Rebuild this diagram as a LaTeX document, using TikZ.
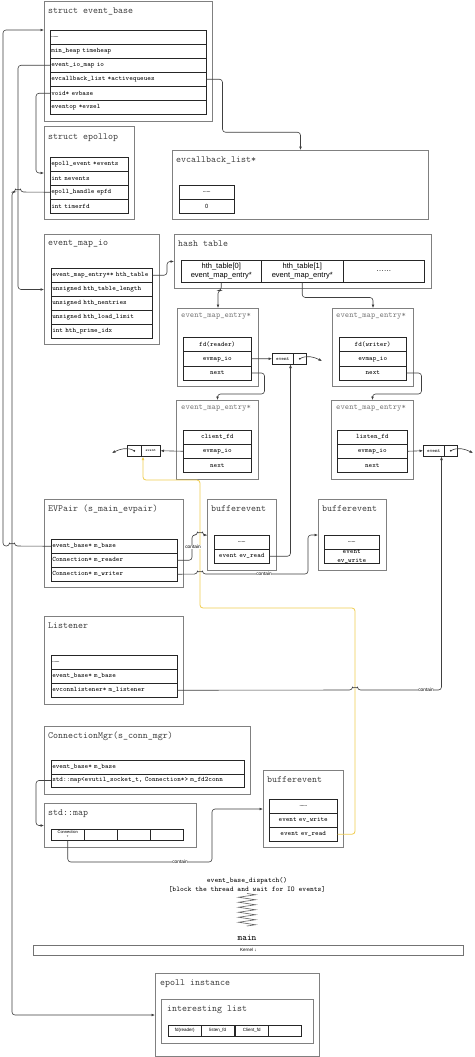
\documentclass[tikz,border=0pt]{standalone}
\usepackage{fontspec}
\newfontfamily\arialfont{Liberation Sans}
\usetikzlibrary{arrows.meta,decorations.pathmorphing}
\definecolor{wireyellow}{RGB}{240,205,80}

\begin{document}
\begin{tikzpicture}[x=1pt, y=-1pt, >={Latex[length=3.5pt,width=2.8pt]},
  box/.style={draw=black!50, line width=1pt, anchor=north west, inner sep=0pt},
  ttl/.style={anchor=north west, inner sep=0pt, text=black!75, font=\ttfamily\fontsize{9.5}{10}\selectfont},
  subttl/.style={anchor=north west, inner sep=0pt, text=black!50, font=\ttfamily\fontsize{8.2}{9}\selectfont},
  fld/.style={draw=black!85, line width=0.5pt, anchor=north west, minimum height=14pt, inner xsep=1pt, inner ysep=0pt, align=left, font=\ttfamily\fontsize{6.8}{7}\selectfont},
  cfld/.style={fld, align=center},
  cell/.style={draw=black!85, line width=0.5pt, anchor=north west, inner sep=0pt, align=center, font=\arialfont\fontsize{4.5}{5}\selectfont},
  hcell/.style={cell, minimum height=22pt, font=\arialfont\fontsize{7.5}{9.5}\selectfont},
  evt/.style={draw=black!85, line width=0.5pt, anchor=north west, inner sep=0pt, minimum height=11pt, font=\ttfamily\fontsize{5}{5}\selectfont},
  conn/.style={draw=black!75, line width=0.6pt, ->, rounded corners=3pt},
  ylw/.style={draw=wireyellow, line width=0.8pt, ->, rounded corners=3pt},
  tag/.style={fill=white, inner sep=0.3pt, font=\arialfont\fontsize{4.8}{5}\selectfont}]
\fill[white] (0,0) rectangle (474,1057);
\useasboundingbox (0,0) rectangle (474,1057);

% event_base
\node[box, minimum width=168pt, minimum height=120pt] (base) at (44,1) {};
\node[ttl] (base-t) at ([xshift=4pt,yshift=-6pt]base.north west) {struct event\_base};
\foreach \txt [count=\i from 0] in {\textellipsis\textellipsis, min\_heap timeheap, event\_io\_map io, evcallback\_list *activequeues, void* evbase, eventop *evsel}
  \node[fld, text width=154pt] (eb\i) at (50,{30+14*\i}) {\txt};

% epollop
\node[box, minimum width=90pt, minimum height=93pt] (epollop) at (44,126) {};
\node[ttl] (epollop-t) at ([xshift=4pt,yshift=-7pt]epollop.north west) {struct epollop};
\foreach \txt [count=\i from 0] in {epoll\_event *events, int nevents, epoll\_handle epfd, int timerfd}
  \node[fld, text width=76pt] (ee\i) at (50,{157+14*\i}) {\txt};

% evcallback_list
\node[box, minimum width=256pt, minimum height=69pt] (cbl) at (172,150) {};
\node[ttl] (cbl-t) at ([xshift=4pt,yshift=-6pt]cbl.north west) {evcallback\_list*};
\foreach \txt [count=\i from 0] in {\textellipsis\textellipsis, 0}
  \node[cfld, text width=53pt] (cb\i) at (179,{185+14*\i}) {\txt};

% event_map_io
\node[box, minimum width=115pt, minimum height=110pt] (mapio) at (44,234) {};
\node[ttl] (mapio-t) at ([xshift=4pt,yshift=-6pt]mapio.north west) {event\_map\_io};
\foreach \txt [count=\i from 0] in {event\_map\_entry** hth\_table, unsigned hth\_table\_length, unsigned hth\_nentries, unsigned hth\_load\_limit, int hth\_prime\_idx}
  \node[fld, text width=99pt] (mi\i) at (51,{268+14*\i}) {\txt};

% hash table
\node[box, minimum width=257pt, minimum height=54pt] (hash) at (174,234) {};
\node[ttl] (hash-t) at ([xshift=4pt,yshift=-6pt]hash.north west) {hash table};
\node[hcell, minimum width=80pt] (h0) at (181,260) {hth\_table[0]\\event\_map\_entry*};
\node[hcell, minimum width=82pt] (h1) at (261,260) {hth\_table[1]\\event\_map\_entry*};
\node[hcell, minimum width=81pt] (h2) at (343,260) {\textellipsis\textellipsis};

% event_map_entry
\node[box, minimum width=81pt, minimum height=78pt] (e1) at (177,308) {};
\node[subttl] (e1-t) at ([xshift=4pt,yshift=-5pt]e1.north west) {event\_map\_entry*};
\foreach \txt [count=\i from 0] in {fd(reader), evmap\_io, next}
  \node[cfld, text width=66pt, minimum height=14.3pt] (r1\i) at (183,{337+14.3*\i}) {\txt};
\node[box, minimum width=81pt, minimum height=78pt] (e2) at (332,308) {};
\node[subttl] (e2-t) at ([xshift=4pt,yshift=-5pt]e2.north west) {event\_map\_entry*};
\foreach \txt [count=\i from 0] in {fd(writer), evmap\_io, next}
  \node[cfld, text width=65pt, minimum height=14.3pt] (r2\i) at (339,{337+14.3*\i}) {\txt};
\node[box, minimum width=82pt, minimum height=79pt] (e3) at (176,400) {};
\node[subttl] (e3-t) at ([xshift=5pt,yshift=-5pt]e3.north west) {event\_map\_entry*};
\foreach \txt [count=\i from 0] in {client\_fd, evmap\_io, next}
  \node[cfld, text width=66pt] (r3\i) at (183,{430+14*\i}) {\txt};
\node[box, minimum width=82pt, minimum height=79pt] (e4) at (331,400) {};
\node[subttl] (e4-t) at ([xshift=5pt,yshift=-5pt]e4.north west) {event\_map\_entry*};
\foreach \txt [count=\i from 0] in {listen\_fd, evmap\_io, next}
  \node[cfld, text width=68pt] (r4\i) at (337,{430+14*\i}) {\txt};

% events
\node[evt, minimum width=21pt] (evA) at (272,353) {event};
\node[evt, minimum width=13pt] (evAd) at (293,353) {};
\node[evt, minimum width=14pt] (evBd) at (127,445) {};
\node[evt, minimum width=19pt, font=\ttfamily\fontsize{3.8}{4}\selectfont] (evB) at (141,445) {event};
\node[evt, minimum width=21pt] (evC) at (423,445) {event};
\node[evt, minimum width=13pt] (evCd) at (444,445) {};
\foreach \d in {evAd, evBd, evCd}
  \fill[black!85] (\d.center) circle[radius=1pt];
\coordinate (evA-end) at (322,361);
\coordinate (evB-end) at (112,453);
\coordinate (evC-end) at (473,453);

% EVPair
\node[box, minimum width=139pt, minimum height=88pt] (evp) at (44,499) {};
\node[ttl] (evp-t) at ([xshift=4pt,yshift=-6pt]evp.north west) {EVPair (s\_main\_evpair)};
\foreach \txt [count=\i from 0] in {event\_base* m\_base, Connection* m\_reader, Connection* m\_writer}
  \node[fld, text width=124pt] (ep\i) at (51,{539+14*\i}) {\txt};

% bufferevents
\node[box, minimum width=69pt, minimum height=71pt] (bf1) at (207,499) {};
\node[ttl] (bf1-t) at ([xshift=4pt,yshift=-6pt]bf1.north west) {bufferevent};
\foreach \txt [count=\i from 0] in {\textellipsis\textellipsis, event ev\_read}
  \node[cfld, text width=53pt] (b1\i) at (214,{535+14*\i}) {\txt};
\node[box, minimum width=68pt, minimum height=71pt] (bf2) at (318,499) {};
\node[ttl] (bf2-t) at ([xshift=4pt,yshift=-6pt]bf2.north west) {bufferevent};
\node[cfld, text width=53pt] (b20) at (324,535) {\textellipsis\textellipsis};
\node[cfld, text width=53pt] (b21) at (324,549) {};
\node[inner sep=0pt, align=center, font=\ttfamily\fontsize{6.8}{8.5}\selectfont] (b21-t) at ([yshift=-0.5pt]b21.center) {event\\ev\_write};

% Listener
\node[box, minimum width=139pt, minimum height=88pt] (lsn) at (44,616) {};
\node[ttl] (lsn-t) at ([xshift=4pt,yshift=-6pt]lsn.north west) {Listener};
\foreach \txt [count=\i from 0] in {\textellipsis\textellipsis, event\_base* m\_base, evconnlistener* m\_listener}
  \node[fld, text width=124pt] (ls\i) at (51,{655+14*\i}) {\txt};

% ConnectionMgr
\node[box, minimum width=206pt, minimum height=68pt] (cmgr) at (44,726) {};
\node[ttl] (cmgr-t) at ([xshift=4pt,yshift=-6pt]cmgr.north west) {ConnectionMgr(s\_conn\_mgr)};
\foreach \txt [count=\i from 0] in {event\_base* m\_base, {std::map<evutil\_socket\_t, Connection*> m\_fd2conn}}
  \node[fld, text width=191pt, minimum height=13.5pt] (cm\i) at (51,{760+13.5*\i}) {\txt};

% std::map
\node[box, minimum width=152pt, minimum height=44pt] (smap) at (44,803) {};
\node[ttl] (smap-t) at ([xshift=4pt,yshift=-6pt]smap.north west) {std::map};
\node[cell, minimum width=33pt, minimum height=11pt, font=\arialfont\fontsize{4}{4.5}\selectfont] (sm0) at (51,829) {Connection\\*};
\foreach \i in {1,2,3}
  \node[cell, minimum width=33pt, minimum height=11pt] (sm\i) at ({51+33*\i},829) {};

\node[box, minimum width=80pt, minimum height=77pt] (bf3) at (263,770) {};
\node[ttl] (bf3-t) at ([xshift=4pt,yshift=-6pt]bf3.north west) {bufferevent};
\foreach \txt [count=\i from 0] in {\textellipsis\textellipsis, event ev\_write, event ev\_read}
  \node[cfld, text width=66pt] (b3\i) at (269,{799+14*\i}) {\txt};

% dispatch and kernel
\node[inner sep=0pt, font=\ttfamily\fontsize{7.2}{8}\selectfont] (disp) at (247,881) {event\_base\_dispatch()};
\node[inner sep=0pt, font=\ttfamily\fontsize{7.2}{8}\selectfont] (blk) at (247,889) {[block the thread and wait for IO events]};
\node[inner sep=0pt, font=\ttfamily\fontsize{9}{10}\selectfont] (mainlbl) at (247,938) {main};
\draw[black!60, line width=0.6pt, decorate, decoration={zigzag, segment length=5pt, amplitude=8.5pt}] ([yshift=-1.5pt]blk.south) -- ([yshift=9pt]mainlbl.north);
\node[draw=black!55, line width=0.8pt, anchor=north west, minimum width=430pt, minimum height=10pt, inner sep=0pt, font=\arialfont\fontsize{4.5}{5}\selectfont] (kern) at (33,945) {Kernel ↓};

% epoll instance
\node[box, minimum width=164pt, minimum height=83pt] (inst) at (155,973) {};
\node[ttl] (inst-t) at ([xshift=5pt,yshift=-6pt]inst.north west) {epoll instance};
\node[box, minimum width=152pt, minimum height=44pt] (ilist) at (161,999) {};
\node[ttl] (ilist-t) at ([xshift=6pt,yshift=-6pt]ilist.north west) {interesting list};
\foreach \x/\txt [count=\i from 0] in {168/fd(reader), 201/listen\_fd, 235/Client\_fd, 268/{}}
  \node[cell, minimum width=33pt, minimum height=11pt] (il\i) at (\x,1025) {\txt};

% connectors
\coordinate (railA) at (3,30);
\coordinate (railB) at (12,0);
\coordinate (yA) at (355,608);
\coordinate (yB) at (200,480);
\draw[ylw] (b32.east) -| (yA) -| (yB) -| ([xshift=2pt]evB.south west);

\draw[conn] (ep0.west) -- (14.5,546) arc[start angle=0, end angle=180, radius=2.5pt] -| (railA) -- (base.west |- railA);
\draw[conn] (ee2.west) -- (20.5,192) arc[start angle=0, end angle=180, radius=2.5pt] -| (railB |- inst.west) -- (inst.west);
\draw[conn] (eb2.west) -| ([xshift=-26pt]mapio.west) -- (mapio.west);
\draw[conn] (eb4.west) -| ([xshift=-8pt]epollop.west) -- (epollop.west);
\draw[conn] (eb3.east) -| ([xshift=16pt,yshift=-53pt]eb3.east) -| (cbl.north);
\draw[conn] (mi0.east) -| ([xshift=-7pt]hash.west) -- (hash.west);
\draw[conn] (h0.south) -- ++(0,8) -| (e1.north);
\draw[conn] (h1.south) -- ++(0,15) -| (e2.north);
\draw[conn] (r11.east) -- (evA.west);
\draw[conn] (r12.east) -- ++(13,0) |- ([yshift=6pt]e3.north) -- (e3.north);
\draw[conn] (r22.east) -- ++(15,0) |- ([yshift=6pt]e4.north) -- (e4.north);
\draw[conn] (r31.west) -- (evB.east);
\draw[conn] (r41.east) -- (evC.west);
\draw[conn] (evAd.center) .. controls +(7,-4) and +(-8,-4) .. (evA-end);
\draw[conn] (evBd.center) .. controls +(-7,-4) and +(8,-4) .. (evB-end);
\draw[conn] (evCd.center) .. controls +(7,-4) and +(-8,-4) .. (evC-end);
\draw[conn] (b11.east) -| ([xshift=-3pt]evA.south east);

\draw[conn] (ep1.east) -| ([xshift=-15pt]bf1.west) -- ([xshift=-9.5pt]bf1.west) arc[start angle=180, end angle=0, radius=2.5pt] -- (bf1.west);
\node[tag] (c1) at (193,547) {contain};
\draw[conn] (ep2.east) -- (197.5,574) arc[start angle=180, end angle=0, radius=2.5pt] -| ([xshift=-10pt]bf2.west) -- (bf2.west);
\node[tag] (c2) at (264,574) {contain};
\draw[conn] (ls2.east) -- (352.5,690) arc[start angle=180, end angle=0, radius=2.5pt] -| ([xshift=-3pt]evC.south east);
\node[tag] (c3) at (426,690) {contain};
\draw[conn] (cm1.west) -| ([xshift=-8pt]smap.west) -- (smap.west);
\draw[conn] (sm0.south) |- ([xshift=-51pt,yshift=-53pt]bf3.west) |- (bf3.west);
\node[tag] (c4) at (180,862) {contain};

\end{tikzpicture}
\end{document}
